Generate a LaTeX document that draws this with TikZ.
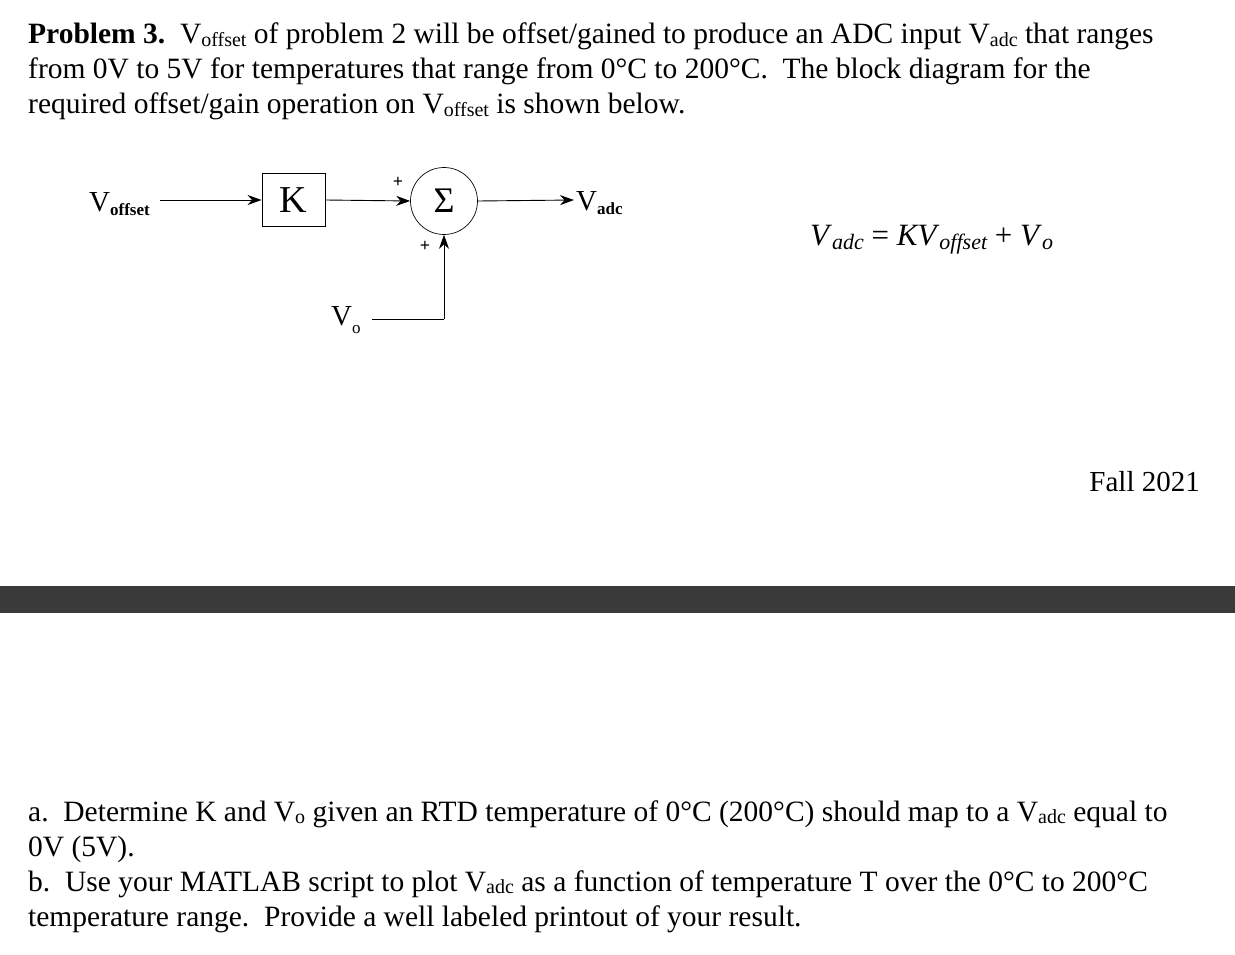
\documentclass[tikz,border=0pt]{standalone}
\usepackage{fontspec}
\setmainfont{Liberation Serif}
\usetikzlibrary{arrows.meta}
\begin{document}
\begin{tikzpicture}[x=1pt,y=-1pt,
  txt/.style={anchor=base west,inner sep=0pt,font=\rmfamily\fontsize{29.5}{32}\selectfont},
  lbl/.style={inner sep=0pt,font=\rmfamily\fontsize{29}{30}\selectfont},
  sig/.style={draw,line width=0.9pt,-{Stealth[length=14pt,width=10pt]}},
  wire/.style={draw,line width=0.9pt}]
\useasboundingbox (0,0) rectangle (1235,955);
\newcommand{\sbs}[1]{\raisebox{-0.2ex}{\rmfamily\fontsize{20}{21}\selectfont #1}}
\newcommand{\isb}[1]{\raisebox{-0.3ex}{\rmfamily\itshape\fontsize{22}{23}\selectfont #1}}
\node[txt] (l1) at (28,44) {\textbf{Problem 3.}\enspace V\sbs{offset} of problem 2 will be offset/gained to produce an ADC input V\sbs{adc} that ranges};
\node[txt] (l2) at (28,79) {from 0V to 5V for temperatures that range from 0°C to 200°C.\enspace The block diagram for the};
\node[txt] (l3) at (28,114) {required offset/gain operation on V\sbs{offset} is shown below.};
% diagram
\node[lbl,anchor=west] (vin) at (89,204) {V\raisebox{-0.3ex}{\rmfamily\bfseries\fontsize{17}{18}\selectfont offset}};
\node[draw,line width=0.9pt,minimum width=63pt,minimum height=53pt,inner sep=0pt,font=\rmfamily\fontsize{38}{40}\selectfont] (K) at (293.5,200) {K};
\node[draw,line width=0.7pt,circle,minimum size=67pt,inner sep=0pt,font=\rmfamily\fontsize{36}{38}\selectfont] (S) at (444,201) {Σ};
\node[lbl,anchor=west] (vout) at (576,203) {V\raisebox{-0.3ex}{\rmfamily\bfseries\fontsize{17}{18}\selectfont adc}};
\node[lbl,anchor=west] (vo) at (331,320) {V\raisebox{-0.6ex}{\rmfamily\fontsize{17}{18}\selectfont o}};
\coordinate (a) at (160,200);
\coordinate (b) at (372,319);
\coordinate (c) at (444,319);
\coordinate (d) at (574,200);
\draw[sig] (a) -- (K.west);
\draw[sig] (K.east) -- (S.west);
\draw[sig] (S.east) -- (d);
\draw[wire] (b) -- (c);
\draw[sig] (c) -- (S.south);
\node[inner sep=0pt,font=\rmfamily\bfseries\fontsize{18}{18}\selectfont] (p1) at (398,182) {+};
\node[inner sep=0pt,font=\rmfamily\bfseries\fontsize{18}{18}\selectfont] (p2) at (425,246) {+};
\node[txt,font=\rmfamily\fontsize{31}{33}\selectfont] (eq) at (810,245) {\textit{V}\isb{adc}\ =\ \textit{KV}\isb{offset}\ +\ \textit{V}\isb{o}};
\node[lbl,anchor=base east] (fall) at (1200,491) {Fall 2021};
\fill[fill={rgb,255:red,58;green,58;blue,58}] (0,586) rectangle (1235,613);
\node[txt] (q1) at (28,821) {a.\enspace Determine K and V\sbs{o} given an RTD temperature of 0°C (200°C) should map to a V\sbs{adc} equal to};
\node[txt] (q2) at (28,856) {0V (5V).};
\node[txt] (q3) at (28,891) {b.\enspace Use your MATLAB script to plot V\sbs{adc} as a function of temperature T over the 0°C to 200°C};
\node[txt] (q4) at (28,926) {temperature range.\enspace Provide a well labeled printout of your result.};
\end{tikzpicture}
\end{document}
